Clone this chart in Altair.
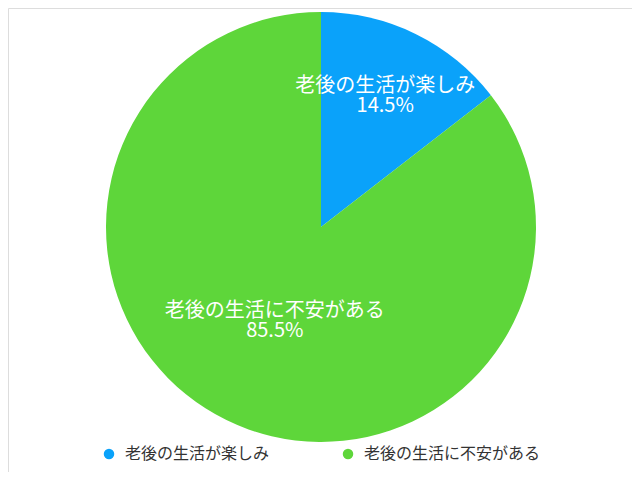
import altair as alt
import pandas as pd

labels = ["老後の生活が楽しみ", "老後の生活に不安がある"]
values = [14.5, 85.5]
pct_text = ["14.5%", "85.5%"]
colors = ["#0AA2FA", "#5ED63A"]

df = pd.DataFrame({"label": labels, "value": values, "pct": pct_text})
df["text"] = df["label"] + "\n" + df["pct"]
df["order"] = [0, 1]

FONT = "Noto Sans CJK JP"

arc = alt.Chart(df).mark_arc(outerRadius=215).encode(
    theta=alt.Theta("value:Q", stack=True),
    order=alt.Order("order:Q"),
    x=alt.value(313),
    y=alt.value(219),
    color=alt.Color(
        "label:N",
        scale=alt.Scale(domain=labels, range=colors),
        sort=labels,
        legend=alt.Legend(
            title=None,
            orient="none",
            legendX=93,
            legendY=438,
            direction="horizontal",
            symbolType="circle",
            symbolSize=110,
            symbolStrokeWidth=0,
            labelFont=FONT,
            labelFontSize=16,
            labelColor="#333333",
            labelOffset=8,
            columnPadding=70,
            labelLimit=300,
        ),
    ),
)

text = (
    alt.Chart(df)
    .transform_joinaggregate(total="sum(value)")
    .transform_window(cum="sum(value)", sort=[alt.SortField("order")], frame=[None, 0])
    .transform_calculate(
        mid="2 * PI * (datum.cum - datum.value / 2) / datum.total",
        r="datum.order == 0 ? 146 : 105",
    )
    .mark_text(
        font=FONT,
        fontSize=20,
        color="white",
        lineBreak="\n",
        lineHeight=20,
        align="center",
        baseline="middle",
        dy=-10,
    )
    .encode(
        x=alt.value(313),
        y=alt.value(219),
        theta=alt.Theta("mid:Q", scale=None),
        radius=alt.Radius("r:Q", scale=None),
        text="text:N",
    )
)

chart = (
    alt.layer(arc, text)
    .properties(width=624, height=464, autosize=alt.AutoSizeParams(type="none"), padding=0)
    .configure_view(stroke=None)
    .configure(background="white")
)

chart.save("out.html", embed_options={"renderer": "svg", "actions": False})
